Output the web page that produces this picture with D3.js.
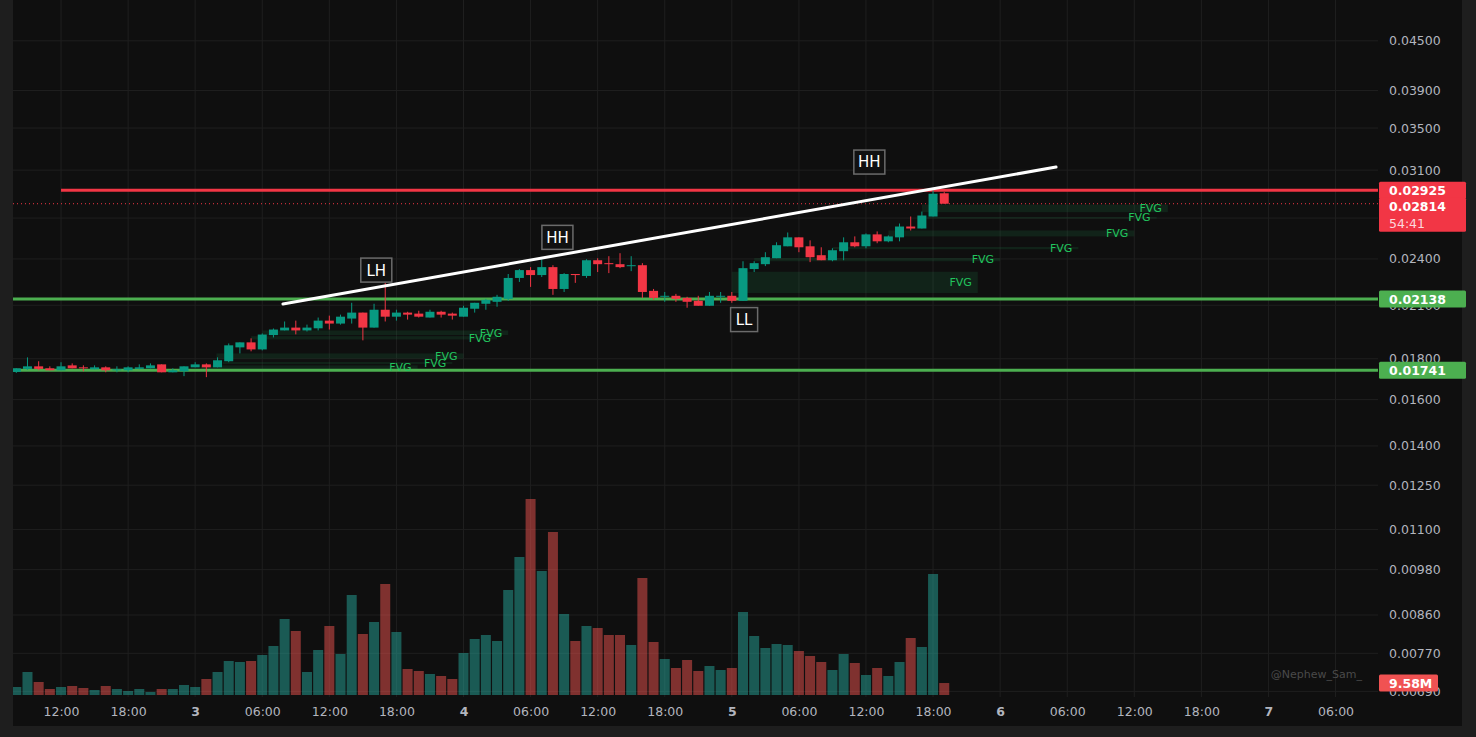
<!DOCTYPE html>
<html>
<head>
<meta charset="utf-8">
<script src="https://cdn.jsdelivr.net/npm/d3@7/dist/d3.min.js"></script>
<style>
html, body { margin: 0; padding: 0; background: #1e1e1e; overflow: hidden; }
svg { display: block; font-family: "DejaVu Sans", "Noto Sans", sans-serif; }
</style>
</head>
<body>
<svg id="chart" width="1476" height="737"></svg>
<script>
// hourly candles, first one is 08:00 on day 2, last is 19:00 on day 5
const opens = [
  0.01733, 0.01748, 0.01761, 0.01751, 0.01741, 0.01766, 0.01756, 0.01746, 0.01756, 0.01741,
  0.01741, 0.01748, 0.01751, 0.01771, 0.01731, 0.01736, 0.01756, 0.01771, 0.01756, 0.01787,
  0.01860, 0.01887, 0.01849, 0.01927, 0.01953, 0.01969, 0.01953, 0.01965, 0.02009, 0.01992,
  0.02021, 0.02056, 0.01969, 0.02073, 0.02032, 0.02056, 0.02050, 0.02027, 0.02061, 0.02050,
  0.02032, 0.02079, 0.02109, 0.02121, 0.02139, 0.02272, 0.02324, 0.02291, 0.02344, 0.02201,
  0.02298, 0.02285, 0.02391, 0.02371, 0.02364, 0.02354, 0.02357, 0.02189, 0.02152, 0.02158,
  0.02145, 0.02127, 0.02097, 0.02152, 0.02158, 0.02127, 0.02331, 0.02364, 0.02405, 0.02489,
  0.02554, 0.02489, 0.02426, 0.02391, 0.02454, 0.02518, 0.02489, 0.02576, 0.02525, 0.02554,
  0.02635, 0.02620, 0.02712, 0.02900
];
const highs = [
  0.01751, 0.01807, 0.01787, 0.01761, 0.01782, 0.01776, 0.01766, 0.01766, 0.01761, 0.01761,
  0.01761, 0.01771, 0.01776, 0.01771, 0.01751, 0.01761, 0.01782, 0.01776, 0.01807, 0.01881,
  0.01887, 0.01909, 0.01936, 0.01964, 0.02004, 0.02009, 0.01986, 0.02027, 0.02038, 0.02044,
  0.02115, 0.02056, 0.02109, 0.02240, 0.02073, 0.02061, 0.02067, 0.02073, 0.02067, 0.02056,
  0.02097, 0.02115, 0.02139, 0.02164, 0.02298, 0.02331, 0.02344, 0.02398, 0.02357, 0.02304,
  0.02298, 0.02398, 0.02405, 0.02419, 0.02440, 0.02419, 0.02371, 0.02201, 0.02182, 0.02170,
  0.02152, 0.02158, 0.02182, 0.02182, 0.02182, 0.02384, 0.02384, 0.02447, 0.02518, 0.02590,
  0.02554, 0.02532, 0.02482, 0.02475, 0.02554, 0.02561, 0.02583, 0.02598, 0.02568, 0.02658,
  0.02712, 0.02751, 0.02925, 0.02910
];
const lows = [
  0.01728, 0.01743, 0.01741, 0.01741, 0.01741, 0.01751, 0.01736, 0.01746, 0.01731, 0.01731,
  0.01731, 0.01746, 0.01751, 0.01731, 0.01731, 0.01712, 0.01756, 0.01707, 0.01756, 0.01782,
  0.01828, 0.01839, 0.01844, 0.01914, 0.01953, 0.01931, 0.01947, 0.01953, 0.01958, 0.01986,
  0.01992, 0.01898, 0.01969, 0.02004, 0.02009, 0.02015, 0.02027, 0.02027, 0.02027, 0.02015,
  0.02032, 0.02056, 0.02073, 0.02091, 0.02127, 0.02246, 0.02214, 0.02278, 0.02164, 0.02182,
  0.02240, 0.02272, 0.02311, 0.02304, 0.02337, 0.02317, 0.02145, 0.02133, 0.02121, 0.02121,
  0.02085, 0.02097, 0.02097, 0.02115, 0.02115, 0.02127, 0.02311, 0.02351, 0.02405, 0.02489,
  0.02447, 0.02378, 0.02391, 0.02384, 0.02391, 0.02482, 0.02475, 0.02511, 0.02518, 0.02525,
  0.02605, 0.02620, 0.02712, 0.02814
];
const closes = [
  0.01751, 0.01761, 0.01748, 0.01741, 0.01761, 0.01751, 0.01751, 0.01756, 0.01741, 0.01746,
  0.01756, 0.01756, 0.01766, 0.01731, 0.01741, 0.01761, 0.01771, 0.01756, 0.01792, 0.01871,
  0.01887, 0.01849, 0.01930, 0.01958, 0.01969, 0.01953, 0.01969, 0.02009, 0.01992, 0.02032,
  0.02056, 0.01969, 0.02073, 0.02032, 0.02056, 0.02044, 0.02032, 0.02061, 0.02044, 0.02038,
  0.02085, 0.02115, 0.02133, 0.02152, 0.02272, 0.02324, 0.02291, 0.02344, 0.02201, 0.02298,
  0.02291, 0.02391, 0.02364, 0.02364, 0.02344, 0.02357, 0.02182, 0.02145, 0.02158, 0.02139,
  0.02121, 0.02097, 0.02158, 0.02158, 0.02127, 0.02337, 0.02371, 0.02412, 0.02497, 0.02554,
  0.02482, 0.02412, 0.02391, 0.02461, 0.02518, 0.02489, 0.02576, 0.02525, 0.02561, 0.02635,
  0.02620, 0.02720, 0.02896, 0.02814
];
// volume in millions
const volumes = [
  6.4, 18.4, 10.4, 4.8, 6.4, 7.2, 5.6, 4.0, 7.2, 4.8,
  3.2, 4.8, 2.4, 4.8, 4.8, 8.0, 6.4, 12.8, 18.4, 27.2,
  26.4, 27.2, 32.0, 39.2, 60.8, 51.2, 18.4, 36.0, 55.2, 32.8,
  80.0, 48.8, 58.4, 88.8, 50.4, 20.8, 19.2, 16.8, 15.2, 12.8,
  33.6, 44.8, 48.0, 43.2, 84.0, 110.4, 156.8, 99.2, 130.4, 64.8,
  43.2, 55.2, 53.6, 48.0, 48.0, 40.0, 93.6, 42.4, 28.8, 21.6,
  28.0, 19.2, 23.2, 20.0, 21.6, 66.4, 47.2, 37.6, 40.8, 40.0,
  35.2, 31.2, 26.4, 20.0, 32.8, 25.6, 16.0, 21.6, 15.2, 26.4,
  45.6, 38.4, 96.8, 9.58
];

// time axis (hour index from first candle)
const timeTickIdx = [4, 10, 16, 22, 28, 34, 40, 46, 52, 58, 64, 70, 76, 82, 88, 94, 100, 106, 112, 118];
const timeLabels = ["12:00", "18:00", "3", "06:00", "12:00", "18:00", "4", "06:00", "12:00", "18:00",
                    "5", "06:00", "12:00", "18:00", "6", "06:00", "12:00", "18:00", "7", "06:00"];
const dayLabels = ["3", "4", "5", "6", "7"];

const priceTicks = [0.045, 0.039, 0.035, 0.031, 0.027, 0.024, 0.021, 0.018, 0.016, 0.014,
                    0.0125, 0.011, 0.0098, 0.0086, 0.0077, 0.0069];
// 0.027 sits fully behind the price pills, only its grid line shows
const hiddenTickLabels = [0.027];

// horizontal levels
const resistanceLevel = 0.02925;
const supportLevels = [0.02138, 0.01741];
const lastPrice = 0.02814;
const countdown = "54:41";
const lastVolumeLabel = "9.58M";

// fair value gaps: start idx, end idx, top, bottom
const fvgStart = [16.5, 18.5, 17.9, 21, 22, 64, 66, 73, 78, 81.5, 81];
const fvgEnd   = [35.9, 39, 40, 43, 44, 86, 88, 95, 100, 102, 103];
const fvgTop   = [0.01766, 0.01783, 0.01828, 0.01921, 0.01953, 0.02313, 0.02407, 0.02484, 0.02605, 0.02708, 0.02807];
const fvgBot   = [0.01748, 0.01773, 0.01801, 0.01903, 0.01927, 0.02175, 0.02384, 0.02468, 0.02561, 0.02700, 0.02746];

// market structure labels
const swingText  = ["LH", "HH", "LL", "HH"];
const swingIdx   = [32.2, 48.4, 65.1, 76.3];
const swingPrice = [0.02324, 0.02554, 0.02015, 0.03173];

// trend line
const trendIdx = [23.85, 93.0];
const trendPrice = [0.02108, 0.03128];

const W = 1476, H = 737;
const plotL = 13, plotR = 1378, plotB = 697;
const up = "#089981", down = "#f23645";

const svg = d3.select("#chart");

svg.append("rect").attr("width", W).attr("height", H).attr("fill", "#1e1e1e");
svg.append("rect").attr("x", plotL).attr("y", 0).attr("width", 1462 - plotL).attr("height", 726)
  .attr("fill", "#0f0f0f");

const x = d3.scaleLinear().domain([0, 118]).range([16.3, 16.3 + 118 * 11.18]);
const y = d3.scaleLog().domain([0.02925, 0.01741]).range([190.3, 370.3]);
const yVol = d3.scaleLinear().domain([0, 156.8]).range([695, 499]);

svg.append("clipPath").attr("id", "plotclip")
  .append("rect").attr("x", plotL).attr("y", 0).attr("width", plotR - plotL).attr("height", plotB);

const grid = svg.append("g").attr("clip-path", "url(#plotclip)");
grid.selectAll(".vg").data(timeTickIdx).enter().append("line")
  .attr("x1", d => x(d)).attr("x2", d => x(d)).attr("y1", 0).attr("y2", plotB)
  .attr("stroke", "#1f1f1f").attr("stroke-width", 1);
grid.selectAll(".hg").data(priceTicks).enter().append("line")
  .attr("x1", plotL).attr("x2", plotR).attr("y1", d => y(d)).attr("y2", d => y(d))
  .attr("stroke", "#1f1f1f").attr("stroke-width", 1);

const plot = svg.append("g").attr("clip-path", "url(#plotclip)");
const idx = d3.range(opens.length);

// volume
plot.selectAll(".vol").data(idx).enter().append("rect")
  .attr("x", i => x(i) - 5).attr("width", 10)
  .attr("y", i => yVol(volumes[i])).attr("height", i => yVol(0) - yVol(volumes[i]))
  .attr("fill", i => closes[i] >= opens[i] ? "rgba(38,166,154,0.5)" : "rgba(239,83,80,0.5)");

// fvg zones
plot.selectAll(".fvg").data(fvgStart).enter().append("rect")
  .attr("x", (d, i) => x(d)).attr("width", (d, i) => x(fvgEnd[i]) - x(d))
  .attr("y", (d, i) => y(fvgTop[i])).attr("height", (d, i) => Math.max(1.5, y(fvgBot[i]) - y(fvgTop[i])))
  .attr("fill", "rgba(34,171,94,0.13)");

// levels
plot.append("line").attr("x1", x(4)).attr("x2", plotR)
  .attr("y1", y(resistanceLevel)).attr("y2", y(resistanceLevel))
  .attr("stroke", down).attr("stroke-width", 3);
plot.selectAll(".sup").data(supportLevels).enter().append("line")
  .attr("x1", plotL).attr("x2", plotR).attr("y1", d => y(d)).attr("y2", d => y(d))
  .attr("stroke", "#4caf50").attr("stroke-width", 3);
plot.append("line").attr("x1", plotL).attr("x2", plotR)
  .attr("y1", y(lastPrice)).attr("y2", y(lastPrice))
  .attr("stroke", down).attr("stroke-width", 1).attr("stroke-dasharray", "1,3");

// candles
plot.selectAll(".wick").data(idx).enter().append("line")
  .attr("x1", i => x(i)).attr("x2", i => x(i))
  .attr("y1", i => y(highs[i])).attr("y2", i => y(lows[i]))
  .attr("stroke", i => closes[i] >= opens[i] ? up : down).attr("stroke-width", 1);
plot.selectAll(".body").data(idx).enter().append("rect")
  .attr("x", i => x(i) - 4.5).attr("width", 9)
  .attr("y", i => y(Math.max(opens[i], closes[i])))
  .attr("height", i => Math.max(1, y(Math.min(opens[i], closes[i])) - y(Math.max(opens[i], closes[i]))))
  .attr("fill", i => closes[i] >= opens[i] ? up : down);

// fvg labels
plot.selectAll(".fvgt").data(fvgEnd).enter().append("text")
  .attr("x", d => x(d) - 6).attr("y", (d, i) => (y(fvgTop[i]) + y(fvgBot[i])) / 2)
  .attr("dy", "0.35em").attr("text-anchor", "end")
  .attr("fill", "#22c55e").attr("font-size", 11).text("FVG");

// trend line
plot.append("line")
  .attr("x1", x(trendIdx[0])).attr("y1", y(trendPrice[0]))
  .attr("x2", x(trendIdx[1])).attr("y2", y(trendPrice[1]))
  .attr("stroke", "#ffffff").attr("stroke-width", 3).attr("stroke-linecap", "round");

// swing labels
const sw = plot.selectAll(".sw").data(swingText).enter().append("g")
  .attr("transform", (d, i) => `translate(${x(swingIdx[i])},${y(swingPrice[i])})`);
sw.append("rect").attr("x", d => -(d === "LL" ? 13.5 : 15.5)).attr("y", -12)
  .attr("width", d => d === "LL" ? 27 : 31).attr("height", 24)
  .attr("fill", "#111111").attr("stroke", "#6b6b6b").attr("stroke-width", 1.5);
sw.append("text").attr("text-anchor", "middle").attr("dy", "0.36em")
  .attr("fill", "#ffffff").attr("font-size", 15).text(d => d);

// watermark
svg.append("text").attr("x", 1362).attr("y", 678).attr("text-anchor", "end")
  .attr("fill", "#4a4a4a").attr("font-size", 11).text("@Nephew_Sam_");

// price axis
const yAxis = svg.append("g").attr("transform", "translate(1381,0)")
  .call(d3.axisRight(y).tickValues(priceTicks.filter(v => !hiddenTickLabels.includes(v)))
    .tickFormat(d3.format(".5f")).tickSize(0).tickPadding(8));
yAxis.select(".domain").remove();
yAxis.selectAll("text").attr("fill", "#b2b5be").attr("font-size", 12.5).attr("font-family", "DejaVu Sans, sans-serif");

// time axis
const xAxis = svg.append("g").attr("transform", "translate(0,699)")
  .call(d3.axisBottom(x).tickValues(timeTickIdx).tickFormat((d, i) => timeLabels[i]).tickSize(0).tickPadding(8));
xAxis.select(".domain").remove();
xAxis.selectAll("text").attr("fill", "#b2b5be").attr("font-size", 12.5).attr("font-family", "DejaVu Sans, sans-serif")
  .attr("font-weight", d => dayLabels.includes(timeLabels[timeTickIdx.indexOf(d)]) ? 700 : 400);

// price pills
function pill(yc, h, w, color, lines) {
  const g = svg.append("g");
  g.append("rect").attr("x", 1379).attr("y", yc - h / 2).attr("width", w).attr("height", h)
    .attr("rx", 1.5).attr("fill", color);
  lines.forEach((l, k) => {
    g.append("text").attr("x", 1389).attr("y", yc - h / 2 + 9 + k * 17).attr("dy", "0.35em")
      .attr("fill", k === 0 ? "#ffffff" : "rgba(255,255,255,0.82)")
      .attr("font-size", 12.5).attr("font-weight", k === 0 ? 700 : 400).text(l);
  });
}
const fmt = d3.format(".5f");
pill(y(resistanceLevel), 17, 87, down, [fmt(resistanceLevel)]);
pill(y(lastPrice) + 11, 34, 87, down, [fmt(lastPrice), countdown]);
supportLevels.forEach(v => pill(y(v), 17, 87, "#4caf50", [fmt(v)]));
pill(yVol(volumes[volumes.length - 1]), 17, 59, "#f05252", [lastVolumeLabel]);
</script>
</body>
</html>
